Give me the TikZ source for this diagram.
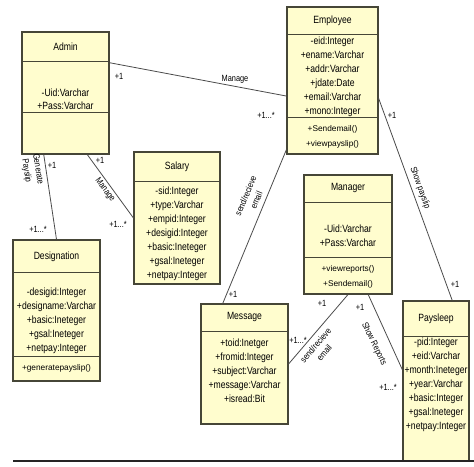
\documentclass[tikz,border=0pt]{standalone}
\usepackage{fontspec}
\setmainfont{Liberation Sans}[FakeStretch=0.82]
\newfontfamily\methfont{Liberation Sans}
\usetikzlibrary{calc}
\definecolor{clsfill}{RGB}{255,253,206}
\definecolor{clsedge}{RGB}{70,70,55}
\definecolor{assoc}{RGB}{75,75,75}

\begin{document}
\begin{tikzpicture}[x=1pt, y=-1pt,
  cls/.style={draw=clsedge, fill=clsfill, line width=1.1pt, inner sep=0pt},
  part/.style={draw=clsedge, line width=1.1pt},
  cname/.style={inner sep=0pt, font=\fontsize{10.5}{12}\selectfont},
  attrs/.style={align=center, inner sep=0pt, font=\fontsize{10.5}{14}\selectfont},
  meths/.style={align=center, inner sep=0pt, font=\methfont\fontsize{8.3}{15}\selectfont},
  link/.style={draw=assoc, line width=0.8pt},
  mult/.style={inner sep=0pt, font=\fontsize{9}{10}\selectfont},
  role/.style={inner sep=0pt, align=center, font=\fontsize{9}{11.5}\selectfont}]
\useasboundingbox (0,0) rectangle (474,466);

% classes
\node[cls, minimum width=87, minimum height=122] (admin) at (65.5,93) {};
\draw[part] ([yshift=-30]admin.north west) -- ([yshift=-30]admin.north east);
\draw[part] ([yshift=-81]admin.north west) -- ([yshift=-81]admin.north east);
\node[cname] (admin-name) at ([yshift=-15]admin.north) {Admin};
\node[attrs, font=\fontsize{10.5}{13}\selectfont] (admin-attr) at ([yshift=-68]admin.north) {-Uid:Varchar\\+Pass:Varchar};

\node[cls, minimum width=91, minimum height=147] (employee) at (332.5,80.5) {};
\draw[part] ([yshift=-28]employee.north west) -- ([yshift=-28]employee.north east);
\draw[part] ([yshift=-111]employee.north west) -- ([yshift=-111]employee.north east);
\node[cname] (employee-name) at ([yshift=-14]employee.north) {Employee};
\node[attrs] (employee-attr) at ([yshift=-70.5]employee.north) {-eid:Integer\\+ename:Varchar\\+addr:Varchar\\+jdate:Date\\+email:Varchar\\+mono:Integer};
\node[meths] (employee-ops) at ([yshift=-130.5]employee.north) {+Sendemail()\\+viewpayslip()};

\node[cls, minimum width=86, minimum height=132] (salary) at (177,218) {};
\draw[part] ([yshift=-30]salary.north west) -- ([yshift=-30]salary.north east);
\node[cname] (salary-name) at ([yshift=-15]salary.north) {Salary};
\node[attrs] (salary-attr) at ([yshift=-82]salary.north) {-sid:Integer\\+type:Varchar\\+empid:Integer\\+desigid:Integer\\+basic:Ineteger\\+gsal:Ineteger\\+netpay:Integer};

\node[cls, minimum width=87, minimum height=141] (designation) at (56.5,310.5) {};
\draw[part] ([yshift=-33]designation.north west) -- ([yshift=-33]designation.north east);
\draw[part] ([yshift=-117]designation.north west) -- ([yshift=-117]designation.north east);
\node[cname] (designation-name) at ([yshift=-17]designation.north) {Designation};
\node[attrs] (designation-attr) at ([yshift=-81]designation.north) {-desigid:Integer\\+designame:Varchar\\+basic:Ineteger\\+gsal:Ineteger\\+netpay:Integer};
\node[meths] (designation-ops) at ([yshift=-129]designation.north) {+generatepayslip()};

\node[cls, minimum width=88, minimum height=119] (manager) at (348,234.5) {};
\draw[part] ([yshift=-28]manager.north west) -- ([yshift=-28]manager.north east);
\draw[part] ([yshift=-83]manager.north west) -- ([yshift=-83]manager.north east);
\node[cname] (manager-name) at ([yshift=-14]manager.north) {Manager};
\node[attrs] (manager-attr) at ([yshift=-61]manager.north) {-Uid:Varchar\\+Pass:Varchar};
\node[meths] (manager-ops) at ([yshift=-102.5]manager.north) {+viewreports()\\+Sendemail()};

\node[cls, minimum width=87, minimum height=120] (message) at (244.5,364) {};
\draw[part] ([yshift=-28]message.north west) -- ([yshift=-28]message.north east);
\node[cname] (message-name) at ([yshift=-14]message.north) {Message};
\node[attrs] (message-attr) at ([yshift=-67]message.north) {+toid:Inetger\\+fromid:Integer\\+subject:Varchar\\+message:Varchar\\+isread:Bit};

\node[cls, minimum width=66, minimum height=160] (paysleep) at (436,381) {};
\draw[part] ([yshift=-36]paysleep.north west) -- ([yshift=-36]paysleep.north east);
\node[cname] (paysleep-name) at ([yshift=-18]paysleep.north) {Paysleep};
\node[attrs] (paysleep-attr) at ([yshift=-84]paysleep.north) {-pid:Integer\\+eid:Varchar\\+month:Ineteger\\+year:Varchar\\+basic:Integer\\+gsal:Ineteger\\+netpay:Integer};

% associations
\draw[link] ($(admin.north east)!.254!(admin.south east)$) -- ($(employee.north west)!.605!(employee.south west)$);
\draw[link] ($(admin.south west)!.253!(admin.south east)$) -- (designation.north);
\draw[link] ($(admin.south west)!.747!(admin.south east)$) -- (salary.west);
\draw[link] ($(employee.north west)!.966!(employee.south west)$) -- ($(message.north west)!.253!(message.north east)$);
\draw[link] ($(employee.north east)!.619!(employee.south east)$) -- ($(paysleep.north west)!.742!(paysleep.north east)$);
\draw[link] (manager.south) -- (message.east);
\draw[link] ($(manager.south west)!.727!(manager.south east)$) -- ($(paysleep.north west)!.431!(paysleep.south west)$);

% multiplicities
\foreach \n/\x/\y/\t in {m-ad-em/119/76/{+1}, m-em-ad/266/115/{+1...*},
    m-ad-de/52/165/{+1}, m-de-ad/38/229/{+1...*},
    m-ad-sa/100/160/{+1}, m-sa-ad/118/224/{+1...*},
    m-me-em/233/294/{+1},
    m-em-pa/392/115/{+1}, m-pa-em/455/284/{+1},
    m-ma-me/322/303/{+1}, m-me-ma/298/340/{+1...*},
    m-ma-pa/360/307/{+1}, m-pa-ma/388/387/{+1...*}}
  \node[mult] (\n) at (\x,\y) {\t};

% role names
\node[role] (r-manage) at (235,79) {Manage};
\node[role, rotate=-81] (r-generate) at (32,170) {Generate\\Payslip};
\node[role, rotate=-53] (r-manage2) at (105,190) {Manage};
\node[role, rotate=67] (r-email) at (251,198) {send/recieve\\email};
\node[role, rotate=-70] (r-payslip) at (420,188) {Show payslip};
\node[role, rotate=49] (r-email2) at (320,349) {send/recieve\\email};
\node[role, rotate=-64] (r-reports) at (374,344) {Show Reports};

% base line
\draw[line width=1.8pt, black!85] (13,461) -- (474,461);
\end{tikzpicture}
\end{document}
